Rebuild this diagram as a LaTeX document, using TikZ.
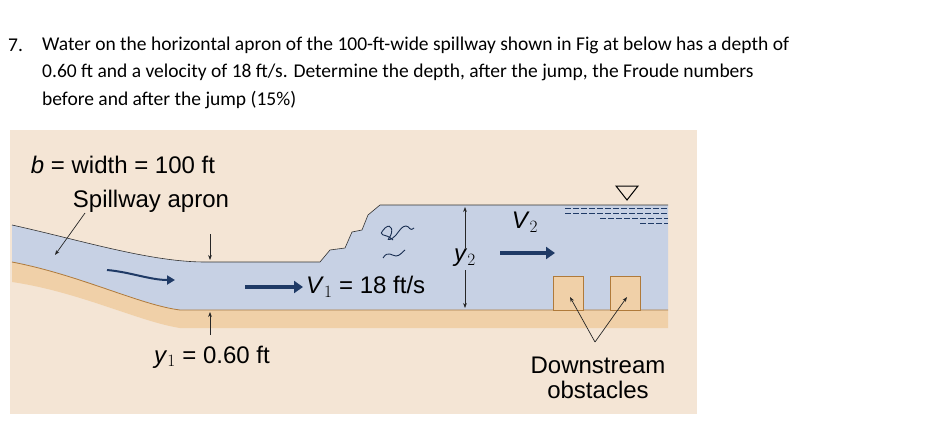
\documentclass[tikz,border=0pt]{standalone}
\usepackage{fontspec}
\setmainfont{Carlito}
\newfontfamily\figfont{Liberation Sans}
\usetikzlibrary{arrows.meta}
\definecolor{bgc}{HTML}{F4E5D5}
\definecolor{water}{HTML}{C7D1E4}
\definecolor{sand}{HTML}{F0D0A8}
\definecolor{navy}{HTML}{1F3A66}
\definecolor{brown}{HTML}{B07A3A}
\begin{document}
\begin{tikzpicture}[x=1pt,y=-1pt,
  qtext/.style={anchor=west,inner sep=0,font=\fontsize{19.5}{23}\selectfont},
  ftext/.style={inner sep=0,font=\figfont\fontsize{24}{27}\selectfont},
  thin/.style={draw=black!85,line width=0.7pt,-{Stealth[length=5pt]}},
  big/.style={draw=navy,line width=3.5pt,-{Triangle[length=9pt,width=12pt]}},
  box/.style={draw=brown,fill=sand,line width=1pt}]
\useasboundingbox (0,0) rectangle (932,428);
\fill[white] (0,0) rectangle (932,428);
\node[qtext] (q0) at (8,45) {7.};
\node[qtext] (q1) at (42,45) {Water on the horizontal apron of the 100-ft-wide spillway shown in Fig at below has a depth of};
\node[qtext] (q2) at (42,72) {0.60 ft and a velocity of 18 ft/s. Determine the depth, after the jump, the Froude numbers};
\node[qtext] (q3) at (42,100) {before and after the jump (15\%)};
% panel
\fill[bgc] (10,130) rectangle (697,414);
% sand
\fill[sand] (12,262) .. controls (80,275) and (140,305) .. (180,310) -- (668,310) -- (668,328) -- (180,328) .. controls (140,322) and (80,292) .. (12,282) -- cycle;
% water
\fill[water] (12,225) .. controls (80,240) and (150,262) .. (205,262) -- (320,262) -- (330,250) -- (345,248) -- (352,232) -- (362,230) -- (368,215) -- (380,205) -- (668,205) -- (668,310) -- (180,310) .. controls (140,305) and (80,275) .. (12,262) -- cycle;
\draw[black!80,line width=0.6pt] (12,225) .. controls (80,240) and (150,262) .. (205,262) -- (320,262) -- (330,250) -- (345,248) -- (352,232) -- (362,230) -- (368,215) -- (380,205) -- (668,205);
\draw[brown,line width=0.8pt] (12,262) .. controls (80,275) and (140,305) .. (180,310) -- (668,310);
% obstacles
\draw[box] (553,276) rectangle (583,310);
\draw[box] (610,276) rectangle (640,310);
\coordinate (ob1) at (570,297);
\coordinate (ob2) at (627,297);
% surface symbol
\draw[black,line width=1pt,fill=bgc] (616,186) -- (638,186) -- (627,200) -- cycle;
\foreach \y/\a/\b in {208/565/668,213/565/668,218/600/668,223/640/668}
  \draw[navy,line width=0.8pt,dash pattern=on 6pt off 2pt] (\a,\y) -- (\b,\y);
% labels
\node[ftext] (bw) at (123,165) {\textit{b} = width = 100 ft};
\node[ftext] (sa) at (151,201) {Spillway apron};
\coordinate (sap) at (55,255);
\draw[thin] (85,213) -- (sap);
\coordinate (t1) at (210,234);
\coordinate (t2) at (210,260);
\draw[thin] (t1) -- (t2);
\coordinate (b1) at (210,335);
\coordinate (b2) at (210,312);
\draw[thin] (b1) -- (b2);
\node[ftext] (y1) at (212,357) {\textit{y}$_1$ = 0.60 ft};
\coordinate (c1) at (107,270);
\coordinate (c2) at (175,280);
\draw[draw=navy,line width=2pt,-{Triangle[length=8pt,width=9pt]}] (c1) .. controls (130,272) and (150,280) .. (c2);
\coordinate (a1) at (245,287);
\coordinate (a2) at (303,287);
\draw[big] (a1) -- (a2);
\node[ftext,anchor=west] (v1) at (306,287) {\textit{V}$_1$ = 18 ft/s};
\draw[thin] (465,248) -- (465,207);
\draw[thin] (465,270) -- (465,308);
\node[ftext] (y2) at (465,258) {\textit{y}$_2$};
\node[ftext] (v2) at (525,222) {\textit{V}$_2$};
\coordinate (d1) at (500,253);
\coordinate (d2) at (555,253);
\draw[big] (d1) -- (d2);
% squiggles
\draw[navy!80!black,line width=0.9pt] (393,240) .. controls (385,232) and (376,238) .. (385,228) .. controls (392,222) and (394,232) .. (389,238) .. controls (386,241) and (392,240) .. (396,235) .. controls (400,230) and (402,226) .. (406,226) .. controls (410,226) and (409,232) .. (414,228);
\draw[navy!80!black,line width=0.9pt] (383,258) .. controls (388,250) and (392,256) .. (396,256) .. controls (400,256) and (402,252) .. (405,250);
\node[ftext,align=center] (ds) at (598,378) {Downstream\\[-2pt]obstacles};
\coordinate (vx) at (595,342);
\draw[thin] (vx) -- (ob1);
\draw[thin] (vx) -- (ob2);
\end{tikzpicture}
\end{document}
